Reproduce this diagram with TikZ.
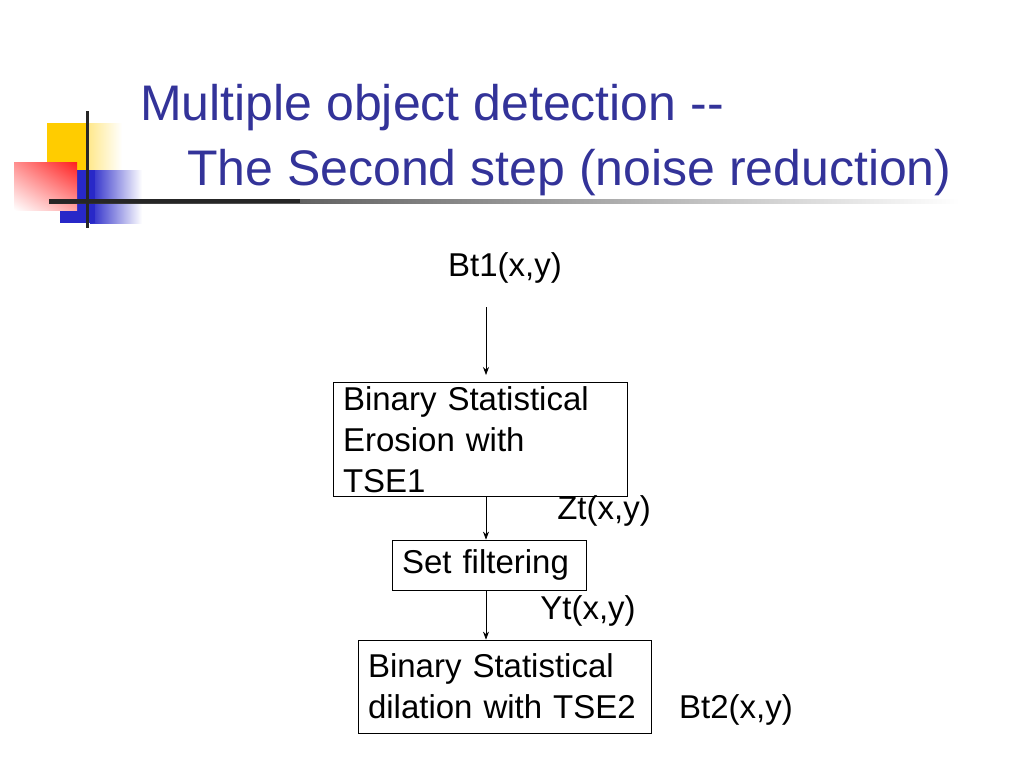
\documentclass[tikz,border=0pt]{standalone}
\usepackage{fontspec}
\usetikzlibrary{shadings,arrows.meta}
\setmainfont{Liberation Sans}
\definecolor{titleblue}{RGB}{51,51,153}
\definecolor{ylw}{RGB}{255,204,0}
\definecolor{rd}{RGB}{255,30,30}
\definecolor{bl}{RGB}{40,40,200}
\begin{document}
\begin{tikzpicture}[x=1pt,y=-1pt,
  box/.style={draw,line width=0.8pt,align=left,inner xsep=10pt,inner ysep=4pt,font=\fontsize{33}{41}\selectfont},
  lbl/.style={font=\fontsize{33}{40}\selectfont},
  arr/.style={-{Stealth[length=8pt,width=6pt]},line width=0.7pt}]
\useasboundingbox (0,0) rectangle (1024,768);
% logo
\shade[left color=ylw,right color=white] (47,123) rectangle (122,170);
\fill[ylw] (47,123) rectangle (88,170);
\shade[left color=bl,right color=white] (90,170) rectangle (142,223);
\fill[bl] (60,170) rectangle (95,223);
\fill[white] (60,170) rectangle (77,210);
\shade[lower left=white,upper right=rd,upper left=rd!50!white,lower right=rd!40!white] (14,162) rectangle (77,210);
\shade[left color=black!85,right color=white] (49,199) rectangle (960,203);
\fill[black!85] (49,199) rectangle (300,203);
\draw[line width=3pt,black!85] (87,111) -- (87,228);
% title
\node[anchor=base west,text=titleblue,font=\fontsize{50}{58}\selectfont,inner sep=0] (t1) at (140,120) {Multiple object detection -{}-};
\node[anchor=base west,text=titleblue,font=\fontsize{50}{58}\selectfont,inner sep=0] (t2) at (187,185) {The Second step (noise reduction)};
% diagram
\node[lbl] (bt1) at (505,268) {Bt1(x,y)};
\node[box,text width=274pt,minimum height=93pt] (b1) at (480,439.5) {Binary Statistical\\Erosion with TSE1};
\node[box,text width=174pt,minimum height=50pt] (b2) at (489,565) {Set filtering};
\node[box,text width=273pt,minimum height=93pt] (b3) at (504.5,686.5) {Binary Statistical\\dilation with TSE2};
\node[lbl] (zt) at (604,511) {Zt(x,y)};
\node[lbl] (yt) at (588,611) {Yt(x,y)};
\node[lbl] (bt2) at (736,710) {Bt2(x,y)};
\coordinate (a0) at (486,307);
\coordinate (a1) at (486,375);
\draw[arr] (a0) -- (a1);
\draw[arr] (b1.south -| a0) -- (b2.north -| a0);
\draw[arr] (b2.south -| a0) -- (b3.north -| a0);
\end{tikzpicture}
\end{document}
